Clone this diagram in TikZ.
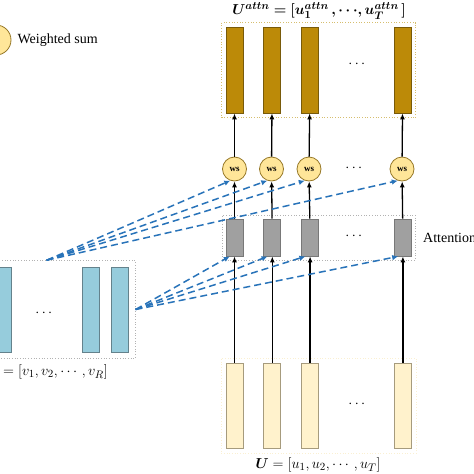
\documentclass[tikz,border=0pt]{standalone}
\usepackage{amsmath,bm}
\usepackage{fontspec}
\setmainfont{Liberation Serif}
\usetikzlibrary{arrows.meta,positioning,fit,calc}
\definecolor{goldfill}{RGB}{188,138,8}
\definecolor{golddraw}{RGB}{120,90,10}
\definecolor{goldline}{RGB}{214,190,110}
\definecolor{creamfill}{RGB}{255,242,204}
\definecolor{creamdraw}{RGB}{166,155,125}
\definecolor{creamline}{RGB}{250,240,210}
\definecolor{grayfill}{RGB}{160,160,160}
\definecolor{graydraw}{RGB}{120,120,120}
\definecolor{bluefill}{RGB}{150,204,220}
\definecolor{bluedraw}{RGB}{100,130,140}
\definecolor{wsfill}{RGB}{255,230,153}
\definecolor{wsdraw}{RGB}{150,120,40}
\definecolor{dashblue}{RGB}{40,115,185}
\newcommand{\attnout}{$\bm{U^{attn} = [u_1^{attn}\,, \cdots, u_T^{attn}\,]}$}
\tikzset{
  font=\fontsize{14}{16}\selectfont,
  mathlabel/.style={inner sep=0pt, font=\fontsize{15}{17}\selectfont},
  bar/.style={
    draw,
    line width=0.8pt,
    minimum width=17pt,
    minimum height=86pt,
    inner sep=0pt
  },
  goldbar/.style={bar, fill=goldfill, draw=golddraw},
  creambar/.style={bar, fill=creamfill, draw=creamdraw, minimum height=85pt},
  graybar/.style={bar, fill=grayfill, draw=graydraw, minimum height=37pt},
  bluebar/.style={bar, fill=bluefill, draw=bluedraw, minimum height=85pt},
  wsnode/.style={
    circle,
    draw=wsdraw,
    fill=wsfill,
    line width=0.8pt,
    minimum size=24pt,
    inner sep=0pt,
    font=\fontsize{9}{10}\selectfont\bfseries
  },
  group/.style={
    draw=black!30,
    dotted,
    line width=0.7pt,
    inner sep=4pt
  },
  dots/.style={inner sep=0pt},
  arrow/.style={-{Latex[length=6pt,width=5pt]}, line width=1.3pt},
  attarrow/.style={-{Latex[length=6pt,width=5.5pt]}, line width=1.5pt, draw=dashblue, dash pattern=on 7pt off 4pt}
}

\begin{document}
\begin{tikzpicture}[x=1pt, y=-1pt]
\useasboundingbox (0,0) rectangle (474,474);

% Input sequence
\node[creambar] (c1) at (234.5,405.5) {};
\node[creambar, right=20pt of c1] (c2) {};
\node[creambar, right=20pt of c2] (c3) {};
\node[creambar, right=75pt of c3] (c4) {};
\node[dots] (cdots) at (358,404) {$\cdots$};

% Attention scores
\node[graybar] (a1) at (234.5,237.5) {};
\node[graybar, right=20pt of a1] (a2) {};
\node[graybar, right=20pt of a2] (a3) {};
\node[graybar, right=75pt of a3] (a4) {};
\node[dots] (adots) at (355,236) {$\cdots$};

% Weighted sums
\node[wsnode] (ws1) at (234.5,169) {ws};
\node[wsnode] (ws2) at (271.5,169) {ws};
\node[wsnode] (ws3) at (309,169) {ws};
\node[wsnode] (ws4) at (402,169) {ws};
\node[dots] (wsdots) at (355,168) {$\cdots$};

% Output sequence
\node[goldbar] (g1) at (234.5,70) {};
\node[goldbar, right=20pt of g1] (g2) {};
\node[goldbar, right=20pt of g2] (g3) {};
\node[goldbar, right=75pt of g3] (g4) {};
\node[dots] (gdots) at (358,64) {$\cdots$};

% Region features
\node[bluebar] (v0) at (2.5,309.5) {};
\node[bluebar] (v1) at (90.5,309.5) {};
\node[bluebar, right=12pt of v1] (v2) {};
\node[dots] (vdots) at (45,313) {$\cdots$};

% Groups
\node[group, draw=creamline, fit=(c1)(c4), inner sep=4.5pt] (cbox) {};
\node[group, fit=(a1)(a4), inner sep=3.5pt] (abox) {};
\node[group, draw=goldline, fit=(g1)(g4)] (gbox) {};
\node[group, fit=(v0)(v2), inner sep=6pt] (vbox) {};
\coordinate (vtop) at ($(vbox.north west)!0.4!(vbox.north east)$);

% Labels
\node[mathlabel] (glabel) at (319,11) {\attnout};
\node[mathlabel] (clabel) at (318,465) {$\bm{U} = [u_1, u_2, \cdots, u_T]$};
\node[mathlabel, anchor=east] (vlabel) at (108,372) {$\bm{V} = [v_1, v_2, \cdots, v_R]$};
\node[inner sep=0pt, anchor=west] (alabel) at (423,238) {Attention};

% Legend
\node[wsnode, minimum size=30pt] (legendws) at (-4,40) {};
\node[inner sep=0pt, right=6pt of legendws] (legend) {Weighted sum};

% Data flow
\draw[arrow] (c1) -- (a1);
\draw[arrow] (c2) -- (a2);
\draw[arrow] (c3) -- (a3);
\draw[arrow] (c4) -- (a4);
\draw[arrow] (a1) -- (ws1);
\draw[arrow] (a2) -- (ws2);
\draw[arrow] (a3) -- (ws3);
\draw[arrow] (a4) -- (ws4);
\draw[arrow] (ws1) -- (g1);
\draw[arrow] (ws2) -- (g2);
\draw[arrow] (ws3) -- (g3);
\draw[arrow] (ws4) -- (g4);

% Attention over regions
\draw[attarrow] (vbox.east) -- (a1.256);
\draw[attarrow] (vbox.east) -- (a2.256);
\draw[attarrow] (vbox.east) -- (a3.256);
\draw[attarrow] (vbox.east) -- (a4.256);
\draw[attarrow] (vtop) -- (ws1.250);
\draw[attarrow] (vtop) -- (ws2.250);
\draw[attarrow] (vtop) -- (ws3.250);
\draw[attarrow] (vtop) -- (ws4.250);

\end{tikzpicture}
\end{document}
